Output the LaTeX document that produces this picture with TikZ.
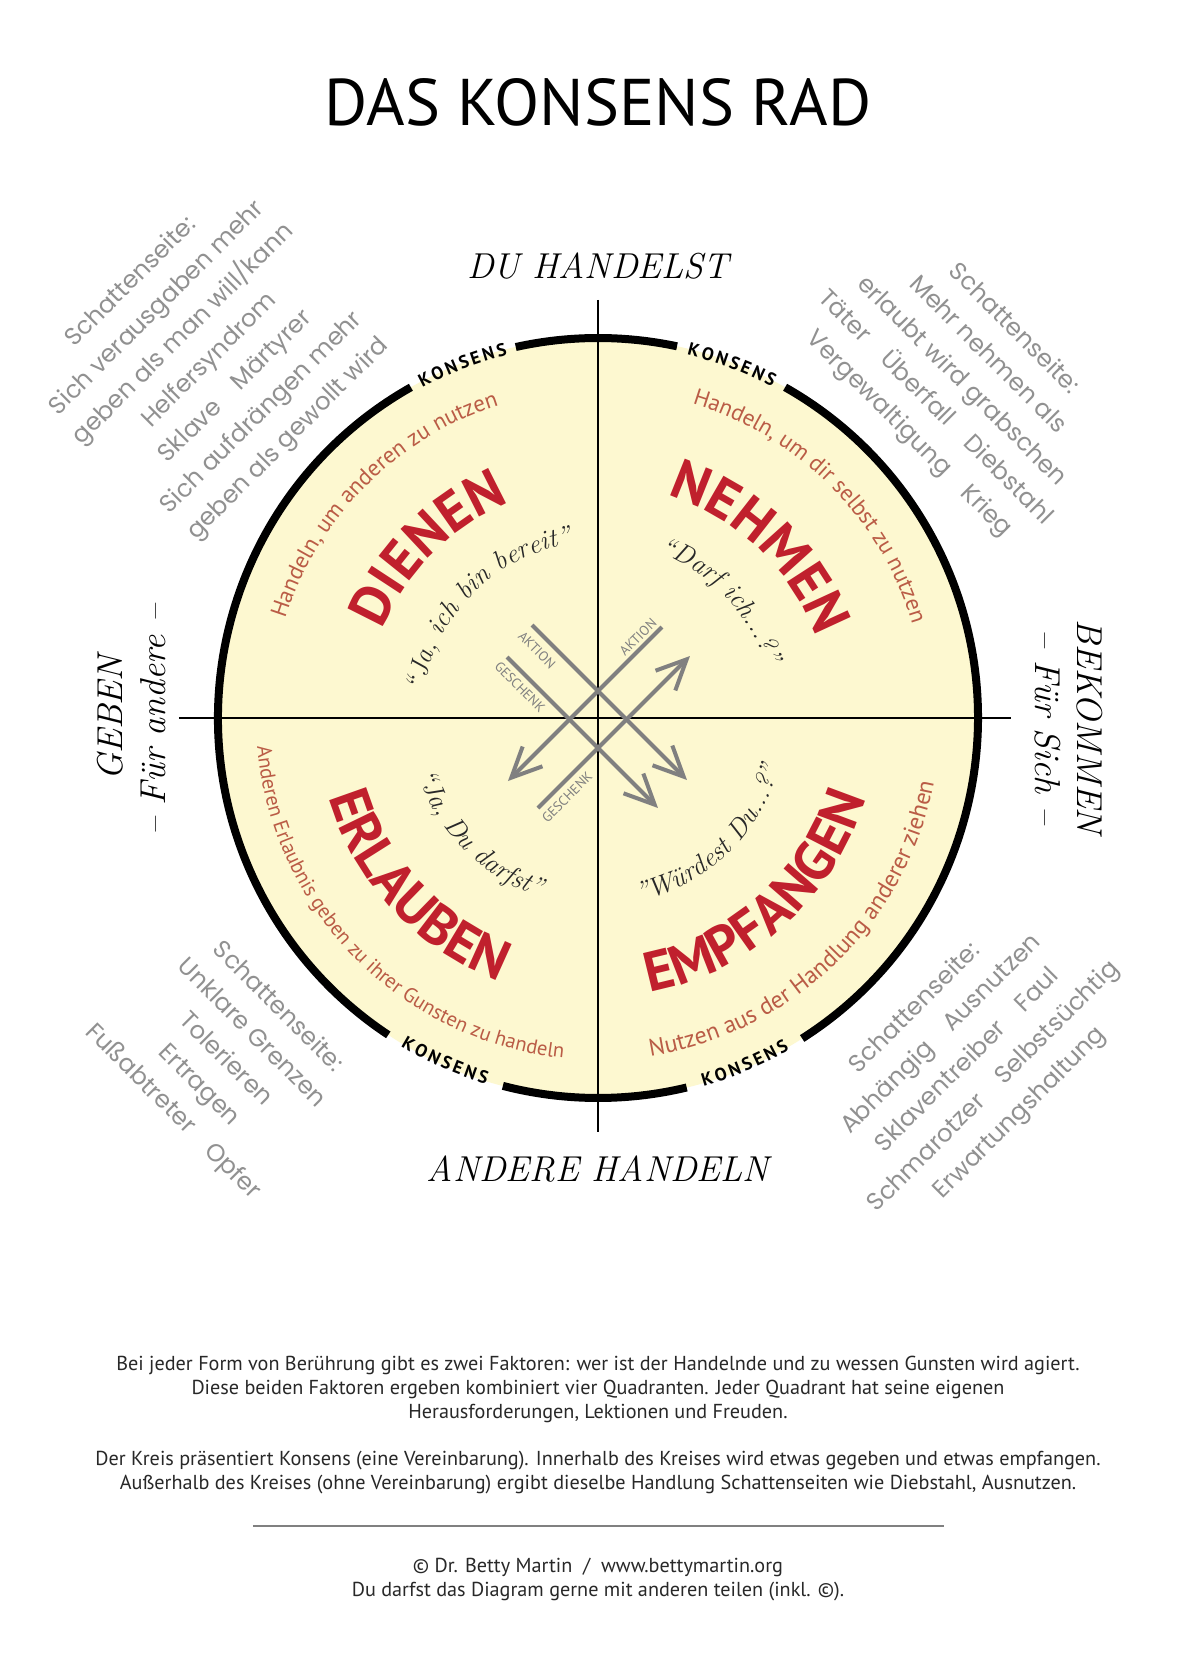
\documentclass[tikz,border=0pt]{standalone}
\usepackage{fontspec}
\setsansfont{PT Sans}
\newfontfamily\shadowfont{Poppins}
\usetikzlibrary{arrows.meta,decorations.text}

\definecolor{wheelfill}{RGB}{253,248,208}
\definecolor{konsensred}{RGB}{192,32,45}
\definecolor{rust}{RGB}{186,92,70}
\definecolor{arrowgray}{RGB}{128,128,128}
\definecolor{shadowgray}{RGB}{145,145,145}
\definecolor{inkgray}{RGB}{40,40,40}

\tikzset{
  rim/.style={line width=4pt, black},
  axis/.style={line width=1.2pt, black},
  flow/.style={line width=2pt, arrowgray, -{Straight Barb[length=15pt,width=14pt]}},
  tag/.style={font=\sffamily\fontsize{6.8}{7}\selectfont, text=arrowgray, inner sep=0pt},
  shadow/.style={font=\shadowfont\fontsize{12.2}{18.5}\selectfont, text=shadowgray, align=center},
  side/.style={font=\itshape\fontsize{18}{20}\selectfont, text=black},
  body/.style={font=\sffamily\fontsize{10.1}{12}\selectfont, text=inkgray, align=center},
}

\begin{document}
\begin{tikzpicture}[x=0.5pt, y=0.5pt]
        % Frame
        \useasboundingbox (-598,-937) rectangle (602,718);
        \fill[white] (-598,-937) rectangle (602,718);
        \node[font=\sffamily\fontsize{33}{36}\selectfont, text=black] (title) at (0,616) {DAS KONSENS RAD};
        % Wheel
        \fill[wheelfill] (0,0) circle[radius=380];
        \foreach \s/\e in {78/102.5, 119.5/236.5, 255.5/283.5, 302.5/420.5}
            \draw[rim] (\s:380) arc[start angle=\s, end angle=\e, radius=380];
        \foreach \s/\e/\r in {118/104/374, 76.25/62.25/374, 239/253/383, 286/300/383}
            \path[decorate, decoration={text along path, text align=fit to path,
                text={|\sffamily\bfseries\fontsize{9}{9}\selectfont|KONSENS}}]
                (\s:\r) arc[start angle=\s, end angle=\e, radius=\r];
        % Axes
        \coordinate (up) at (0,418);
        \coordinate (down) at (0,-414);
        \coordinate (west) at (-419,0);
        \coordinate (east) at (413,0);
        \draw[axis] (up) -- (down);
        \draw[axis] (west) -- (east);
        % Quadrant captions
        \path[decorate, decoration={text along path, text align=center, text color=rust,
            text={|\sffamily\fontsize{11.5}{12}\selectfont|Handeln, um anderen zu nutzen}}]
            (180:328) arc[start angle=180, end angle=90, radius=328];
        \path[decorate, decoration={text along path, text align=center, text color=rust,
            text={|\sffamily\fontsize{11.5}{12}\selectfont|Handeln, um dir selbst zu nutzen}}]
            (90:328) arc[start angle=90, end angle=0, radius=328];
        \path[decorate, decoration={text along path, text align=center, text color=rust,
            text={|\sffamily\fontsize{10.3}{12}\selectfont|Anderen Erlaubnis geben zu ihrer Gunsten zu handeln}}]
            (174.5:342) arc[start angle=174.5, end angle=274.5, radius=342];
        \path[decorate, decoration={text along path, text align=center, text color=rust,
            text={|\sffamily\fontsize{12}{12}\selectfont|Nutzen aus der Handlung anderer ziehen}}]
            (264:342) arc[start angle=264, end angle=364, radius=342];
        % Quadrant names
        \path[decorate, decoration={text along path, text align=center, text color=konsensred,
            text={|\sffamily\bfseries\fontsize{28}{28}\selectfont|DIENEN}}]
            (185:233) arc[start angle=185, end angle=85, radius=233];
        \path[decorate, decoration={text along path, text align=center, text color=konsensred,
            text={|\sffamily\bfseries\fontsize{28}{28}\selectfont|NEHMEN}}]
            (96.5:233) arc[start angle=96.5, end angle=-3.5, radius=233];
        \path[decorate, decoration={text along path, text align=center, text color=konsensred,
            text={|\sffamily\bfseries\fontsize{28}{28}\selectfont|ERLAUBEN}}]
            (173:281) arc[start angle=173, end angle=273, radius=281];
        \path[decorate, decoration={text along path, text align=center, text color=konsensred,
            text={|\sffamily\bfseries\fontsize{28}{28}\selectfont|EMPFANGEN}}]
            (262:279) arc[start angle=262, end angle=362, radius=279];
        % Quotes
        \path[decorate, decoration={text along path, text align=center, text color=inkgray,
            text={|\itshape\fontsize{13.5}{13.5}\selectfont|“Ja, ich bin bereit”}}]
            (185:176) arc[start angle=185, end angle=85, radius=176];
        \path[decorate, decoration={text along path, text align=center, text color=inkgray,
            text={|\itshape\fontsize{13.5}{13.5}\selectfont|“Darf ich...?”}}]
            (93.5:176) arc[start angle=93.5, end angle=-6.5, radius=176];
        \path[decorate, decoration={text along path, text align=center, text color=inkgray,
            text={|\itshape\fontsize{13.5}{13.5}\selectfont|“Ja, Du darfst”}}]
            (174.5:188) arc[start angle=174.5, end angle=274.5, radius=188];
        \path[decorate, decoration={text along path, text align=center, text color=inkgray,
            text={|\itshape\fontsize{13.5}{13.5}\selectfont|”Würdest Du...?”}}]
            (263.5:188) arc[start angle=263.5, end angle=363.5, radius=188];
        % Arrows
        \coordinate (a1) at (-66,93);
        \coordinate (a1tip) at (89,-62);
        \coordinate (a2) at (64,91);
        \coordinate (a2tip) at (-90,-63);
        \coordinate (g1) at (-91,61);
        \coordinate (g1tip) at (60,-90);
        \coordinate (g2) at (-60,-90);
        \coordinate (g2tip) at (92,62);
        \draw[flow] (a1) -- (a1tip);
        \draw[flow] (a2) -- (a2tip);
        \draw[flow] (g1) -- (g1tip);
        \draw[flow] (g2) -- (g2tip);
        \node[tag, rotate=-45] (a1tag) at (-61,68) {AKTION};
        \node[tag, rotate=45] (a2tag) at (40,81) {AKTION};
        \node[tag, rotate=-45] (g1tag) at (-78,31) {GESCHENK};
        \node[tag, rotate=45] (g2tag) at (-31,-79) {GESCHENK};
        % Sides
        \node[side] (du) at (0,452) {DU HANDELST};
        \node[side] (andere) at (0,-451) {ANDERE HANDELN};
        \node[side, rotate=90] (geben) at (-488,0) {GEBEN};
        \node[side, rotate=90] (fuerandere) at (-445,-2) {– Für andere –};
        \node[side, rotate=-90] (bekommen) at (492,-9) {BEKOMMEN};
        \node[side, rotate=-90] (fuersich) at (450,-9) {– Für Sich –};
        % Shadow sides
        \node[shadow, rotate=45] (shadowTL) at (-388,357) {Schattenseite:\\ Sich verausgaben mehr\\ geben als man will/kann\\ Helfersyndrom\\ Sklave\quad Märtyrer\\ Sich aufdrängen mehr\\ geben als gewollt wird};
        \node[shadow, rotate=-45] (shadowTR) at (363,336) {Schattenseite:\\ Mehr nehmen als\\ erlaubt wird grabschen\\ Täter\quad Überfall\quad Diebstahl\\ Vergewaltigung\quad Krieg};
        \node[shadow, rotate=-45] (shadowBL) at (-373,-342) {Schattenseite:\\ Unklare Grenzen\\ Tolerieren\\ Ertragen\\ Fußabtreter\quad Opfer};
        \node[shadow, rotate=45] (shadowBR) at (370,-343) {Schattenseite:\\ Abhängig\quad Ausnutzen\\ Sklaventreiber\quad Faul\\ Schmarotzer\quad Selbstsüchtig\\ Erwartungshaltung};
        % Notes
        \node[body] (intro) at (0,-671) {Bei jeder Form von Berührung gibt es zwei Faktoren: wer ist der Handelnde und zu wessen Gunsten wird agiert.\\ Diese beiden Faktoren ergeben kombiniert vier Quadranten. Jeder Quadrant hat seine eigenen\\ Herausforderungen, Lektionen und Freuden.};
        \node[body] (kreis) at (0,-755) {Der Kreis präsentiert Konsens (eine Vereinbarung). Innerhalb des Kreises wird etwas gegeben und etwas empfangen.\\ Außerhalb des Kreises (ohne Vereinbarung) ergibt dieselbe Handlung Schattenseiten wie Diebstahl, Ausnutzen.};
        \coordinate (ruleL) at (-345,-808);
        \coordinate (ruleR) at (346,-808);
        \draw[arrowgray, line width=0.6pt] (ruleL) -- (ruleR);
        \node[body] (credit) at (0,-862) {© Dr. Betty Martin~~/~~www.bettymartin.org\\ Du darfst das Diagram gerne mit anderen teilen (inkl. ©).};
\end{tikzpicture}
\end{document}
